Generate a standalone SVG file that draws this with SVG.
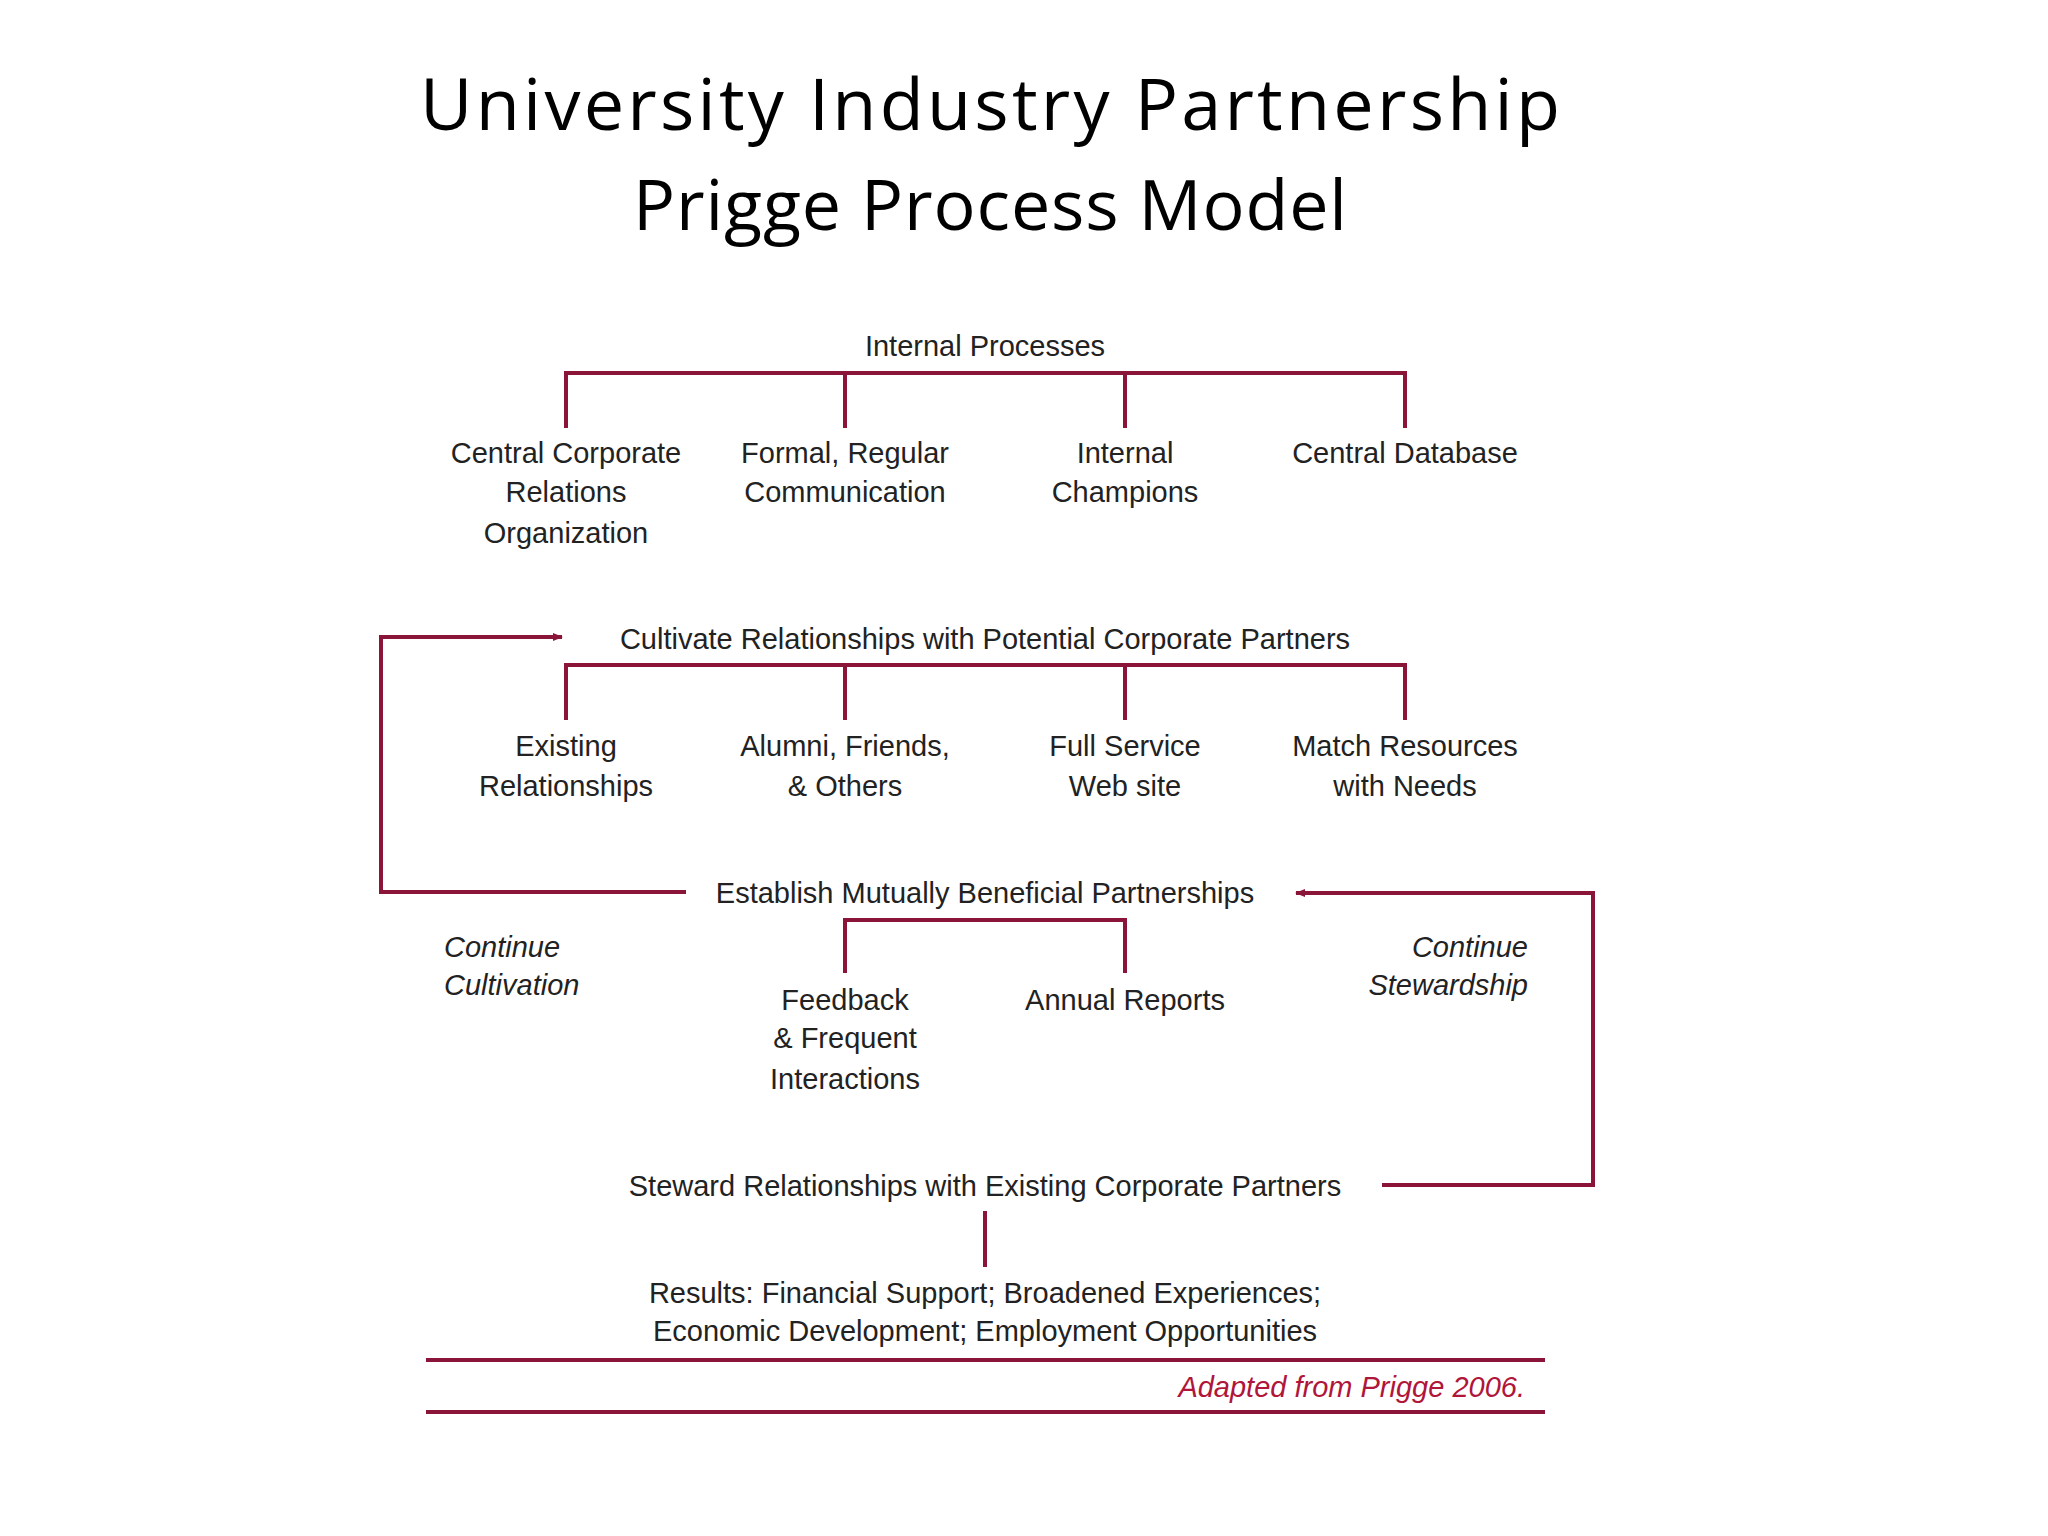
<svg xmlns="http://www.w3.org/2000/svg" width="2048" height="1536" viewBox="0 0 2048 1536">
<defs>
<style>
.t{font-family:"Open Sans",sans-serif;fill:#000;text-anchor:middle}
.b{font-family:"Liberation Sans",Arial,sans-serif;font-size:29px;fill:#222;text-anchor:middle}
.i{font-style:italic}
.ln{stroke:#8B1538;stroke-width:4;fill:none}
</style>
<marker id="ah" markerWidth="10" markerHeight="8" refX="9" refY="4" orient="auto" markerUnits="userSpaceOnUse" viewBox="0 0 10 8"><path d="M0,0 L10,4 L0,8 Z" fill="#8B1538"/></marker>
</defs>
<rect width="2048" height="1536" fill="#fff"/>
<text class="t" x="990" y="130" font-size="72" textLength="1140">University Industry Partnership</text>
<text class="t" x="990" y="230" font-size="70" textLength="714">Prigge Process Model</text>
<g id="connectors">
<path class="ln" d="M566,428 V373 H1405 V428 M845,373 V428 M1125,373 V428"/>
<path class="ln" d="M566,720 V665 H1405 V720 M845,665 V720 M1125,665 V720"/>
<path class="ln" d="M845,973 V920 H1125 V973"/>
<path class="ln" d="M686,892 H381 V637 H562" marker-end="url(#ah)"/>
<path class="ln" d="M1382,1185 H1593 V893 H1296" marker-end="url(#ah)"/>
<path class="ln" d="M985,1211 V1267"/>
<path class="ln" d="M426,1360 H1545 M426,1412 H1545"/>
</g>
<g id="internal"><text class="b" x="985" y="356">Internal Processes</text></g>
<g id="n1"><text class="b" x="566" y="463">Central Corporate</text><text class="b" x="566" y="502">Relations</text><text class="b" x="566" y="543">Organization</text></g>
<g id="n2"><text class="b" x="845" y="463">Formal, Regular</text><text class="b" x="845" y="502">Communication</text></g>
<g id="n3"><text class="b" x="1125" y="463">Internal</text><text class="b" x="1125" y="502">Champions</text></g>
<g id="n4"><text class="b" x="1405" y="463">Central Database</text></g>
<g id="cultivate"><text class="b" x="985" y="649">Cultivate Relationships with Potential Corporate Partners</text></g>
<g id="n5"><text class="b" x="566" y="756">Existing</text><text class="b" x="566" y="796">Relationships</text></g>
<g id="n6"><text class="b" x="845" y="756">Alumni, Friends,</text><text class="b" x="845" y="796">&amp; Others</text></g>
<g id="n7"><text class="b" x="1125" y="756">Full Service</text><text class="b" x="1125" y="796">Web site</text></g>
<g id="n8"><text class="b" x="1405" y="756">Match Resources</text><text class="b" x="1405" y="796">with Needs</text></g>
<g id="establish"><text class="b" x="985" y="903">Establish Mutually Beneficial Partnerships</text></g>
<g id="cc"><text class="b i" x="444" y="957" text-anchor="start" style="text-anchor:start">Continue</text><text class="b i" x="444" y="995" style="text-anchor:start">Cultivation</text></g>
<g id="cs"><text class="b i" x="1528" y="957" style="text-anchor:end">Continue</text><text class="b i" x="1528" y="995" style="text-anchor:end">Stewardship</text></g>
<g id="n9"><text class="b" x="845" y="1010">Feedback</text><text class="b" x="845" y="1048">&amp; Frequent</text><text class="b" x="845" y="1089">Interactions</text></g>
<g id="n10"><text class="b" x="1125" y="1010">Annual Reports</text></g>
<g id="steward"><text class="b" x="985" y="1196">Steward Relationships with Existing Corporate Partners</text></g>
<g id="results"><text class="b" x="985" y="1303">Results: Financial Support; Broadened Experiences;</text><text class="b" x="985" y="1341">Economic Development; Employment Opportunities</text></g>
<text class="b i" x="1525" y="1397" style="text-anchor:end;fill:#B0153A">Adapted from Prigge 2006.</text>
</svg>
